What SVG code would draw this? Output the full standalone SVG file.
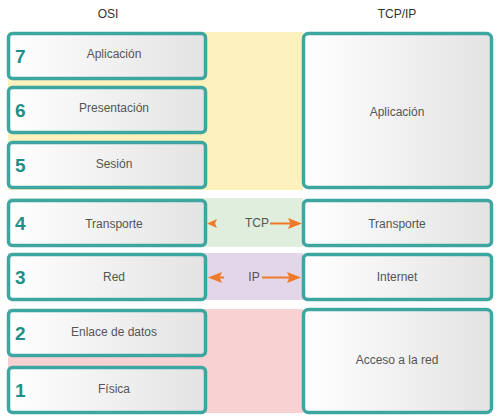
<svg xmlns="http://www.w3.org/2000/svg" width="500" height="420" viewBox="0 0 500 420">
<defs>
<linearGradient id="g" x1="0" y1="0" x2="1" y2="0">
<stop offset="0" stop-color="#ffffff"/>
<stop offset="1" stop-color="#e3e3e3"/>
</linearGradient>
<style>
.box{fill:url(#g);stroke:#3ea6a0;stroke-width:3.5}
.num{font-family:"Liberation Sans",Arial,sans-serif;font-size:19px;font-weight:bold;fill:#1f8f8a}
.lbl{font-family:"Liberation Sans",Arial,sans-serif;font-size:12px;fill:#555;text-anchor:middle}
.hdr{font-family:"Liberation Sans",Arial,sans-serif;font-size:12px;fill:#333;text-anchor:middle}
.arr{fill:#ef7b2a}
</style>
</defs>
<rect width="500" height="420" fill="#fff"/>
<g id="bands">
<rect x="8" y="32" width="295" height="158" fill="#fdf1bd"/>
<rect x="8" y="198" width="295" height="49" fill="#dfeedd"/>
<rect x="8" y="253" width="295" height="47" fill="#e2d6e8"/>
<rect x="8" y="309" width="295" height="104" fill="#f8d2d3"/>
</g>
<text class="hdr" x="108" y="18">OSI</text>
<text class="hdr" x="397" y="18">TCP/IP</text>
<g id="osi7"><rect class="box" x="8.5" y="33.5" width="197" height="45" rx="4"/><text class="num" x="15" y="63">7</text><text class="lbl" x="114" y="58">Aplicación</text></g>
<g id="osi6"><rect class="box" x="8.5" y="87.5" width="197" height="45" rx="4"/><text class="num" x="15" y="117">6</text><text class="lbl" x="114" y="112">Presentación</text></g>
<g id="osi5"><rect class="box" x="8.5" y="142.5" width="197" height="45" rx="4"/><text class="num" x="15" y="172">5</text><text class="lbl" x="114" y="168">Sesión</text></g>
<g id="osi4"><rect class="box" x="8.5" y="200.5" width="197" height="45" rx="4"/><text class="num" x="15" y="230">4</text><text class="lbl" x="114" y="228">Transporte</text></g>
<g id="osi3"><rect class="box" x="8.5" y="254.5" width="197" height="45" rx="4"/><text class="num" x="15" y="284">3</text><text class="lbl" x="114" y="281">Red</text></g>
<g id="osi2"><rect class="box" x="8.5" y="310.5" width="197" height="45" rx="4"/><text class="num" x="15" y="340">2</text><text class="lbl" x="114" y="336">Enlace de datos</text></g>
<g id="osi1"><rect class="box" x="8.5" y="367.5" width="197" height="45" rx="4"/><text class="num" x="15" y="397">1</text><text class="lbl" x="114" y="393">Física</text></g>
<g id="tcp-app"><rect class="box" x="303.5" y="33.5" width="188" height="154" rx="5"/><text class="lbl" x="397" y="116">Aplicación</text></g>
<g id="tcp-trans"><rect class="box" x="303.5" y="200.5" width="188" height="45" rx="4"/><text class="lbl" x="397" y="228">Transporte</text></g>
<g id="tcp-inet"><rect class="box" x="303.5" y="254.5" width="188" height="45" rx="4"/><text class="lbl" x="397" y="281">Internet</text></g>
<g id="tcp-acc"><rect class="box" x="303.5" y="309.5" width="188" height="103" rx="5"/><text class="lbl" x="397" y="364">Acceso a la red</text></g>
<g id="connectors">
<text class="lbl" x="257" y="227">TCP</text>
<polygon class="arr" points="207,223.5 217,219 215,223.5 217,228"/>
<polygon class="arr" points="270,222.5 290,222.5 288,218 302,223.5 288,229 290,224.5 270,224.5"/>
<text class="lbl" x="254" y="281">IP</text>
<polygon class="arr" points="208,277.5 222,272 220,276.5 224,276.5 224,278.5 220,278.5 222,283"/>
<polygon class="arr" points="262,276.5 289,276.5 287,272 301,277.5 287,283 289,278.5 262,278.5"/>
</g>
</svg>
